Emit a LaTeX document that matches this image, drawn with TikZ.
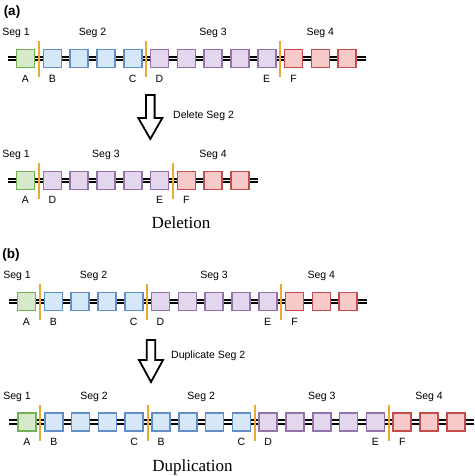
\documentclass[tikz,border=0pt]{standalone}
\usepackage{fontspec}
\setmainfont{Liberation Serif}
\setsansfont{Liberation Sans}
\usetikzlibrary{calc}
\definecolor{gB}{RGB}{112,178,84}
\definecolor{gF}{RGB}{214,234,203}
\definecolor{bB}{RGB}{98,143,200}
\definecolor{bF}{RGB}{214,231,247}
\definecolor{pB}{RGB}{150,114,170}
\definecolor{pF}{RGB}{226,215,236}
\definecolor{rB}{RGB}{196,76,76}
\definecolor{rF}{RGB}{247,201,201}
\definecolor{orB}{RGB}{232,170,52}
\tikzset{
  box/.style={draw, line width=1.6pt, minimum size=18pt, inner sep=0pt},
  gbox/.style={box, draw=gB, fill=gF},
  bbox/.style={box, draw=bB, fill=bF},
  pbox/.style={box, draw=pB, fill=pF},
  rbox/.style={box, draw=rB, fill=rF},
  chainline/.style={draw=black, line width=1.9pt, double=white, double distance=1.6pt},
  segbar/.style={draw=orB, line width=2pt},
  lab/.style={font=\sffamily\fontsize{10.5}{12}\selectfont, inner sep=0pt},
  biglab/.style={font=\rmfamily\fontsize{17}{20}\selectfont, inner sep=0pt},
  panel/.style={font=\sffamily\bfseries\fontsize{13.5}{16}\selectfont, inner sep=0pt},
  blockarrow/.style={draw=black, line width=1.8pt, fill=white, line join=miter},
}
\begin{document}
\begin{tikzpicture}[x=1pt,y=-1pt]
\useasboundingbox[fill=white] (0,0) rectangle (474,476);

% ---------- panel labels ----------
\node[panel] (pa) at (12,12) {(a)};
\node[panel] (pb) at (11,255) {(b)};

% ---------- Row 1 ----------
\coordinate (r1s) at (7.5,58.5);
\coordinate (r1e) at (366,58.5);
\draw[chainline] (r1s) -- (r1e);
\node[gbox] (r1n0) at (25.5,58.5) {};
\foreach \i in {1,...,4} \node[bbox] (r1n\i) at ({25.5+26.8*\i},58.5) {};
\foreach \i in {5,...,9} \node[pbox] (r1n\i) at ({25.5+26.8*\i},58.5) {};
\foreach \i in {10,...,12} \node[rbox] (r1n\i) at ({25.5+26.8*\i},58.5) {};
\foreach \a/\b in {0/1,4/5,9/10}
  \draw[segbar] ($(r1n\a)!0.5!(r1n\b)+(0,-17.5)$) -- ($(r1n\a)!0.5!(r1n\b)+(0,18.5)$);
\node[lab] (r1s1) at ($(r1n0)+(-9.5,-25.5)$) {Seg 1};
\node[lab] (r1s2) at ($(r1n1)!0.5!(r1n4)+(0,-25.5)$) {Seg 2};
\node[lab] (r1s3) at ($(r1n5)!0.5!(r1n9)+(0,-25.5)$) {Seg 3};
\node[lab] (r1s4) at ($(r1n10)!0.5!(r1n12)+(0,-25.5)$) {Seg 4};
\foreach \i/\t in {0/A,1/B,4/C,5/D,9/E,10/F}
  \node[lab] (r1l\t) at ($(r1n\i)+(0,20)$) {\t};

% ---------- Arrow 1 ----------
\draw[blockarrow] (146,95) -- (154.6,95) -- (154.6,118) -- (162.3,118) -- (150.3,139)
  -- (138.3,118) -- (146,118) -- cycle;
\node[lab, anchor=west] (del) at (173,116) {Delete Seg 2};

% ---------- Row 2 ----------
\coordinate (r2s) at (7.5,180.5);
\coordinate (r2e) at (258,180.5);
\draw[chainline] (r2s) -- (r2e);
\node[gbox] (r2n0) at (25.5,180.5) {};
\foreach \i in {1,...,5} \node[pbox] (r2n\i) at ({25.5+26.8*\i},180.5) {};
\foreach \i in {6,...,8} \node[rbox] (r2n\i) at ({25.5+26.8*\i},180.5) {};
\foreach \a/\b in {0/1,5/6}
  \draw[segbar] ($(r2n\a)!0.5!(r2n\b)+(0,-17.5)$) -- ($(r2n\a)!0.5!(r2n\b)+(0,18.5)$);
\node[lab] (r2s1) at ($(r2n0)+(-9.5,-26)$) {Seg 1};
\node[lab] (r2s3) at ($(r2n1)!0.5!(r2n5)+(0,-26)$) {Seg 3};
\node[lab] (r2s4) at ($(r2n6)!0.5!(r2n8)+(0,-26)$) {Seg 4};
\foreach \i/\t in {0/A,1/D,5/E,6/F}
  \node[lab] (r2l\t) at ($(r2n\i)+(0,19.5)$) {\t};
\node[biglab] (deletion) at (181,223) {Deletion};

% ---------- Row 3 ----------
\coordinate (r3s) at (8.5,301.5);
\coordinate (r3e) at (367,301.5);
\draw[chainline] (r3s) -- (r3e);
\node[gbox] (r3n0) at (26.5,301.5) {};
\foreach \i in {1,...,4} \node[bbox] (r3n\i) at ({26.5+26.8*\i},301.5) {};
\foreach \i in {5,...,9} \node[pbox] (r3n\i) at ({26.5+26.8*\i},301.5) {};
\foreach \i in {10,...,12} \node[rbox] (r3n\i) at ({26.5+26.8*\i},301.5) {};
\foreach \a/\b in {0/1,4/5,9/10}
  \draw[segbar] ($(r3n\a)!0.5!(r3n\b)+(0,-17.5)$) -- ($(r3n\a)!0.5!(r3n\b)+(0,18.5)$);
\node[lab] (r3s1) at ($(r3n0)+(-9.5,-25.5)$) {Seg 1};
\node[lab] (r3s2) at ($(r3n1)!0.5!(r3n4)+(0,-25.5)$) {Seg 2};
\node[lab] (r3s3) at ($(r3n5)!0.5!(r3n9)+(0,-25.5)$) {Seg 3};
\node[lab] (r3s4) at ($(r3n10)!0.5!(r3n12)+(0,-25.5)$) {Seg 4};
\foreach \i/\t in {0/A,1/B,4/C,5/D,9/E,10/F}
  \node[lab] (r3l\t) at ($(r3n\i)+(0,20)$) {\t};

% ---------- Arrow 2 ----------
\draw[blockarrow] (146.7,340) -- (155.3,340) -- (155.3,360) -- (163,360) -- (151,382)
  -- (139,360) -- (146.7,360) -- cycle;
\node[lab, anchor=west] (dup) at (171,356) {Duplicate Seg 2};

% ---------- Row 4 ----------
\coordinate (r4s) at (9,422);
\coordinate (r4e) at (474,422);
\draw[chainline] (r4s) -- (r4e);
\node[gbox] (r4n0) at (27,422) {};
\foreach \i in {1,...,8} \node[bbox] (r4n\i) at ({27+26.8*\i},422) {};
\foreach \i in {9,...,13} \node[pbox] (r4n\i) at ({27+26.8*\i},422) {};
\foreach \i in {14,...,16} \node[rbox] (r4n\i) at ({27+26.8*\i},422) {};
\foreach \a/\b in {0/1,4/5,8/9,13/14}
  \draw[segbar] ($(r4n\a)!0.5!(r4n\b)+(0,-17.5)$) -- ($(r4n\a)!0.5!(r4n\b)+(0,18.5)$);
\node[lab] (r4s1) at ($(r4n0)+(-10,-25)$) {Seg 1};
\node[lab] (r4s2) at ($(r4n1)!0.5!(r4n4)+(0,-25)$) {Seg 2};
\node[lab] (r4s2b) at ($(r4n5)!0.5!(r4n8)+(0,-25)$) {Seg 2};
\node[lab] (r4s3) at ($(r4n9)!0.5!(r4n13)+(0,-25)$) {Seg 3};
\node[lab] (r4s4) at ($(r4n14)!0.5!(r4n16)+(0,-25)$) {Seg 4};
\foreach \i/\t/\k in {0/A/a,1/B/b,4/C/c,5/B/bb,8/C/cc,9/D/d,13/E/e,14/F/f}
  \node[lab] (r4l\k) at ($(r4n\i)+(0,19.5)$) {\t};
\node[biglab] (duplication) at (192.5,467) {Duplication};
\end{tikzpicture}
\end{document}
